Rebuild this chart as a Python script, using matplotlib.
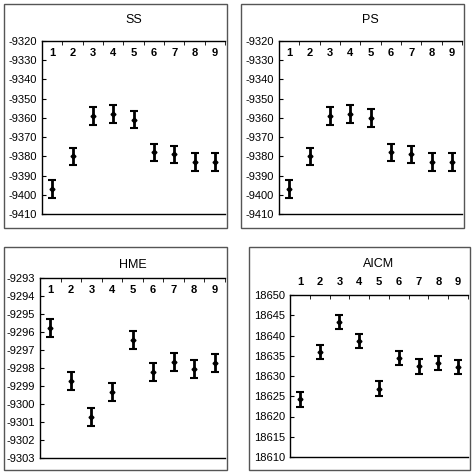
import matplotlib
matplotlib.use("Agg")
import matplotlib.pyplot as plt
from matplotlib.patches import Rectangle
from matplotlib.transforms import blended_transform_factory
import numpy as np

cats = [1, 2, 3, 4, 5, 6, 7, 8, 9]
ss = [-9397, -9380, -9359, -9358, -9361, -9378, -9379, -9383, -9383]
ss_err = [4.5, 4.5, 4.5, 4.5, 4.5, 4.5, 4.5, 4.5, 4.5]
ps = [-9397, -9380, -9359, -9358, -9360, -9378, -9379, -9383, -9383]
ps_err = [4.5, 4.5, 4.5, 4.5, 4.5, 4.5, 4.5, 4.5, 4.5]
hme = [-9295.8, -9298.7, -9300.7, -9299.35, -9296.45, -9298.2, -9297.65, -9298.05, -9297.7]
hme_err = [0.5] * 9
aicm = [18624.2, 18635.9, 18643.3, 18638.6, 18626.9, 18634.4, 18632.4, 18633.2, 18632.2]
aicm_err = [1.8] * 9

W, H = 474, 475
fig = plt.figure(figsize=(W / 100, H / 100), dpi=100)
plt.rcParams['font.family'] = ['Liberation Sans', 'DejaVu Sans']

def fx(x): return x / W
def fy(y): return 1 - y / H

panels = [
    ("SS", ss, ss_err, (-9410, -9320), np.arange(-9410, -9319, 10), (4, 4, 227, 228), (42, 41, 225, 214), 20, True),
    ("PS", ps, ps_err, (-9410, -9320), np.arange(-9410, -9319, 10), (241, 4, 464, 228), (279, 41, 462, 214), 20, True),
    ("HME", hme, hme_err, (-9303, -9293), np.arange(-9303, -9292, 1), (4, 247, 227, 470), (40, 278, 225, 458), 265, True),
    ("AICM", aicm, aicm_err, (18610, 18650), np.arange(18610, 18651, 5), (249, 247, 470, 470), (290, 295, 468, 457), 264, False),
]

for title, vals, err, ylim, yticks, fr, ax_px, ty, inside in panels:
    fig.patches.append(Rectangle((fx(fr[0]), fy(fr[3])), fx(fr[2] - fr[0]), (fr[3] - fr[1]) / H,
                                 transform=fig.transFigure, fill=False, edgecolor='#555555', lw=1))
    l, t, r, b = ax_px
    ax = fig.add_axes([fx(l), fy(b), fx(r - l), (b - t) / H])
    ax.errorbar(cats, vals, yerr=err, fmt='D', color='black', ms=2.5, capsize=3, elinewidth=2, capthick=1.5)
    ax.set_xlim(0.5, 9.5)
    ax.set_ylim(*ylim)
    ax.set_yticks(yticks)
    ax.set_yticklabels([str(int(v)) for v in yticks], fontsize=8)
    ax.yaxis.set_tick_params(direction='in', length=3)
    ax.xaxis.tick_top()
    ax.set_xticks(cats)
    if inside:
        ax.set_xticklabels([])
        tr = blended_transform_factory(ax.transData, ax.transAxes)
        frac = 12 / (b - t)
        for c in cats:
            ax.text(c, 1 - frac, str(c), transform=tr, ha='center', va='center',
                    fontsize=8, fontweight='bold')
    else:
        ax.set_xticklabels([str(c) for c in cats], fontsize=8, fontweight='bold')
    ax.tick_params(axis='x', which='major', length=0, pad=6)
    ax.set_xticks(np.arange(0.5, 9.6, 1), minor=True)
    ax.tick_params(axis='x', which='minor', length=3, direction='in', top=True, bottom=False)
    ax.spines['right'].set_visible(False)
    for s in ('left', 'top', 'bottom'):
        ax.spines[s].set_linewidth(1)
    fig.text(fx((l + r) / 2), fy(ty), title, ha='center', va='center', fontsize=9)

fig.savefig("out.png", dpi=100)
